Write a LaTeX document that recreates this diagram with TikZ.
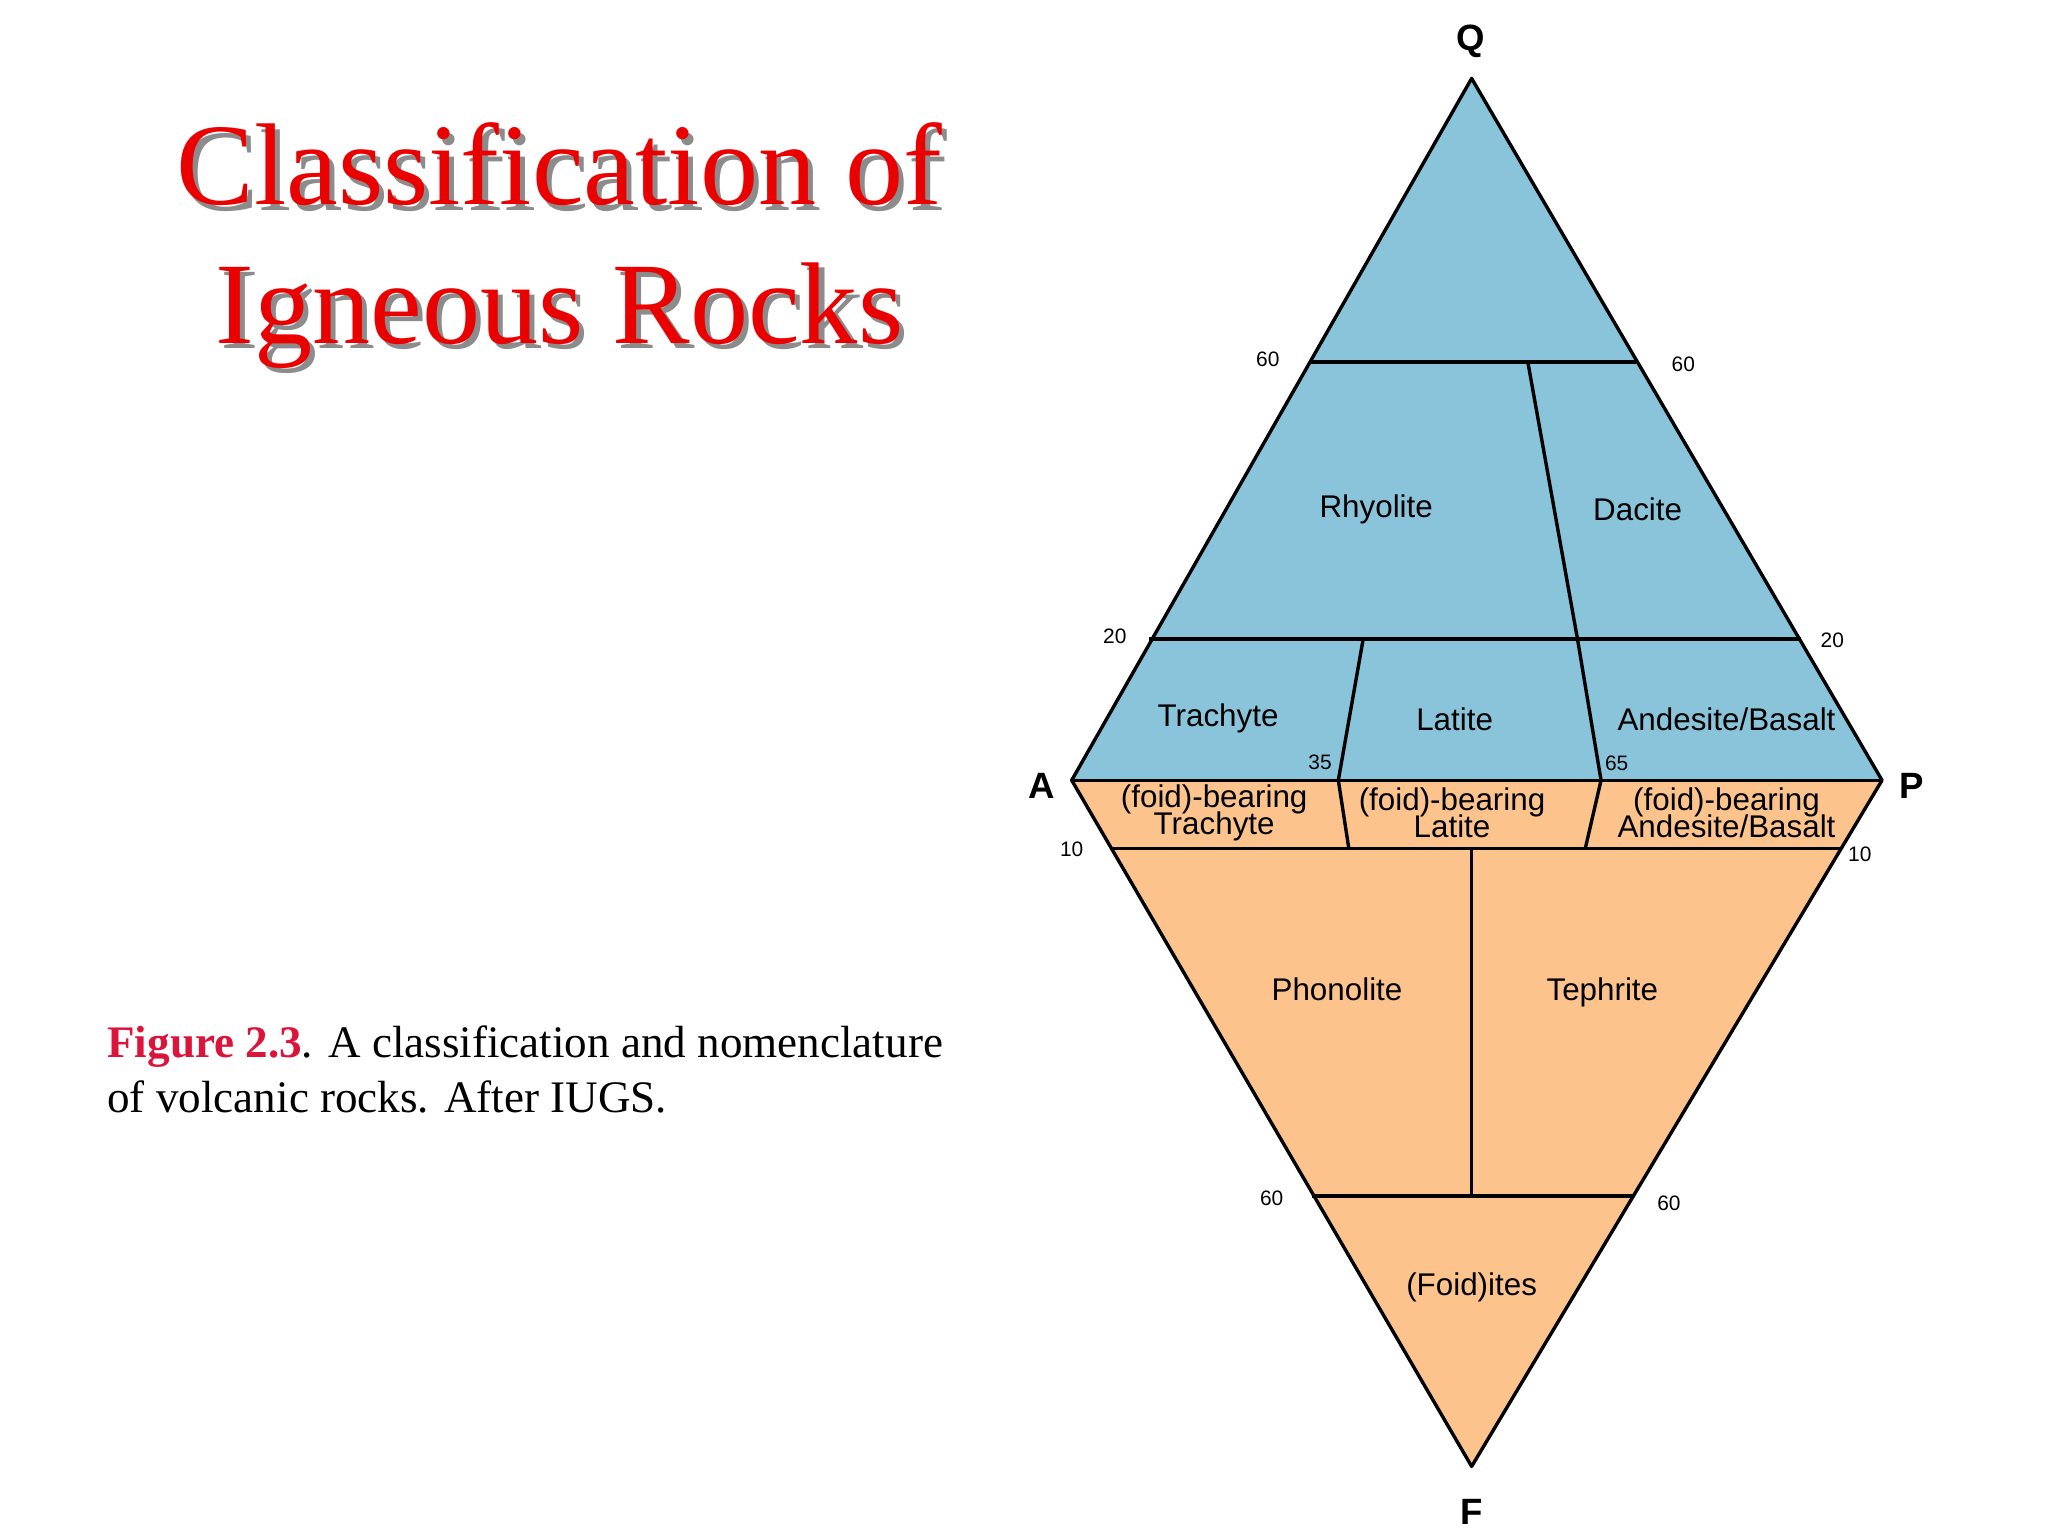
\documentclass[tikz,border=0pt]{standalone}
\usepackage{fontspec}
\setmainfont{Liberation Serif}
\newfontfamily\hsans{Liberation Sans}
\begin{document}
\begin{tikzpicture}[x=1pt,y=-1pt,
  lab/.style={font=\hsans\fontsize{24}{25}\selectfont,align=center,inner sep=0pt},
  num/.style={font=\hsans\fontsize{16}{16}\selectfont,inner sep=0pt},
  vtx/.style={font=\hsans\bfseries\fontsize{28}{28}\selectfont,inner sep=0pt},
  edge/.style={line width=2.6pt,line join=round}]
\useasboundingbox (0,0) rectangle (1567,1175);
\definecolor{qblue}{RGB}{137,196,218}
\definecolor{forange}{RGB}{252,196,140}
\definecolor{tred}{RGB}{235,0,0}
\definecolor{fcrim}{RGB}{220,20,60}
\coordinate (Q) at (1126,60);
\coordinate (A) at (820,597);
\coordinate (P) at (1440,597);
\coordinate (F) at (1126,1122);
\fill[qblue] (Q)--(A)--(P)--cycle;
\fill[forange] (F)--(A)--(P)--cycle;
\draw[edge] (Q)--(A)--(F)--(P)--cycle;
\draw[edge] (A)--(P);
\draw[edge] (1002,277)--(1252,277);
\draw[edge] (879,489)--(1378,489);
\draw[edge] (849,649)--(1409,649);
\draw[edge] (1004,915)--(1250,915);
\draw[edge] (1169,277)--(1207,489)--(1225,597)--(1213,649);
\draw[edge] (1043,489)--(1024,597)--(1032,649);
\draw[edge] (1126,649)--(1126,915);
\node[vtx] (q) at (1125,32) {Q};
\node[vtx] (a) at (797,601) {A};
\node[vtx] (p) at (1463,601) {P};
\node[vtx] (f) at (1126,1157) {F};
\node[lab] (rh) at (1053,390) {Rhyolite};
\node[lab] (da) at (1253,390) {Dacite};
\node[lab] (tr) at (932,550) {Trachyte};
\node[lab] (la) at (1113,550) {Latite};
\node[lab] (ab) at (1321,550) {Andesite/Basalt};
\node[lab] (ftr) at (929,622) {(foid)-bearing\\[-4pt]Trachyte};
\node[lab] (fla) at (1111,622) {(foid)-bearing\\[-4pt]Latite};
\node[lab] (fab) at (1321,622) {(foid)-bearing\\[-4pt]Andesite/Basalt};
\node[lab] (ph) at (1023,757) {Phonolite};
\node[lab] (te) at (1226,759) {Tephrite};
\node[lab] (fo) at (1126,985) {(Foid)ites};
\node[num] at (970,275) {60};
\node[num] at (1288,279) {60};
\node[num] at (853,487) {20};
\node[num] at (1402,490) {20};
\node[num] at (1010,583) {35};
\node[num] at (1237,584) {65};
\node[num] at (820,650) {10};
\node[num] at (1423,654) {10};
\node[num] at (973,917) {60};
\node[num] at (1277,921) {60};
\foreach \dx/\dy/\c in {4/4/black!45,0/0/tred}{
  \node[text=\c,font=\fontsize{89}{106}\selectfont,align=center,inner sep=0pt] at (428+\dx,188+\dy) {Classification of\\Igneous Rocks};
}
\node[anchor=north west,align=left,inner sep=0pt,font=\fontsize{34.5}{42}\selectfont] (cap) at (82,785)
 {\textcolor{fcrim}{\bfseries Figure 2.3}. A classification and nomenclature\\of volcanic rocks. After IUGS.};
\end{tikzpicture}
\end{document}
